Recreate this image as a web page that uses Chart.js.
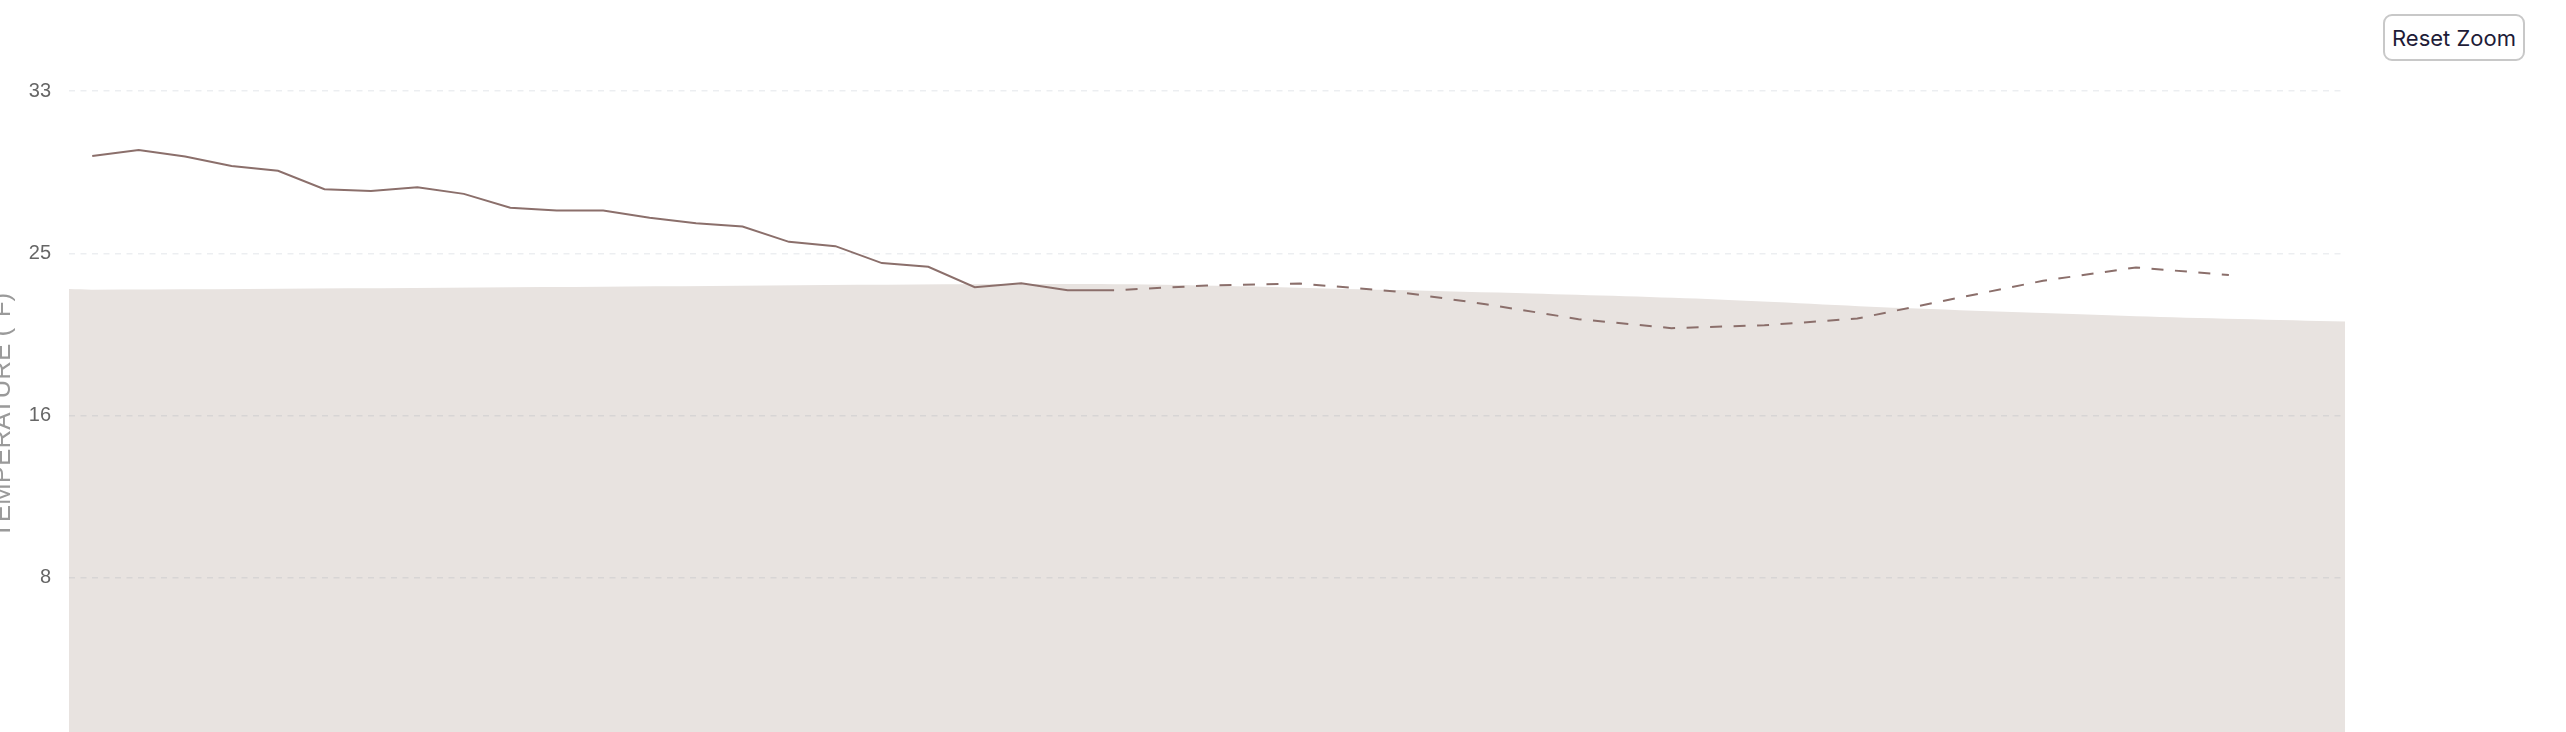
<!DOCTYPE html>
<html>
<head>
<meta charset="utf-8">
<script src="https://cdn.jsdelivr.net/npm/chart.js@4.4.1/dist/chart.umd.min.js"></script>
<style>
  html, body { margin: 0; padding: 0; background: #ffffff; overflow: hidden; width: 2566px; height: 732px; }
  #wrap { position: relative; width: 2566px; height: 732px; overflow: hidden; }
  #chart { position: absolute; left: -17px; top: 0; }
  #reset {
    position: absolute; left: 2383px; top: 14px; width: 142px; height: 47px;
    box-sizing: border-box; border: 2px solid #c8c8c8; border-radius: 9px;
    background: #ffffff; color: #1e1c38; font-family: Inter, "Noto Sans", sans-serif;
    font-size: 22px; padding: 0; cursor: pointer;
  }
</style>
</head>
<body>
<div id="wrap">
  <canvas id="chart" width="2583" height="770"></canvas>
  <button id="reset">Reset Zoom</button>
</div>
<script>
// ---- data ----
const observedHours = [0, 1, 2, 3, 4, 5, 6, 7, 8, 9, 10, 11, 12, 13, 14, 15, 16, 17, 18, 19, 20, 21, 22];
const observedTemp = [29.70, 30.00, 29.67, 29.19, 28.94, 28.01, 27.91, 28.11, 27.77, 27.06, 26.92, 26.92,
                      26.55, 26.28, 26.11, 25.33, 25.11, 24.25, 24.06, 23.02, 23.23, 22.87, 22.87];
const forecastHours = [22, 24, 26, 28, 30, 32, 34, 36, 38, 40, 42, 44, 46];
const forecastTemp = [22.87, 23.11, 23.21, 22.82, 22.16, 21.40, 20.94, 21.09, 21.43, 22.40, 23.35, 24.03, 23.64];
const normalHours = [-1, 0, 11, 22, 28, 31, 35, 39, 44, 49];
const normalTemp = [22.97, 22.90, 23.05, 23.18, 22.88, 22.70, 22.40, 21.96, 21.55, 21.25];
const yTickValues = [0, 8.25, 16.5, 24.75, 33];
const yTickLabels = ['0', '8', '16', '25', '33'];
const xRange = [-0.5, 48.5];
const yTitle = 'TEMPERATURE (°F)';

const toPoints = (xs, ys) => xs.map((x, i) => ({ x: x, y: ys[i] }));

const lineColor = '#8b6f6b';

new Chart(document.getElementById('chart'), {
  type: 'line',
  data: {
    datasets: [
      {
        label: 'Observed',
        data: toPoints(observedHours, observedTemp),
        borderColor: lineColor,
        borderWidth: 2,
        pointRadius: 0,
        tension: 0,
        fill: false,
        order: 1
      },
      {
        label: 'Forecast',
        data: toPoints(forecastHours, forecastTemp),
        borderColor: lineColor,
        borderWidth: 2,
        borderDash: [12, 11.5],
        borderDashOffset: 12,
        pointRadius: 0,
        tension: 0,
        fill: false,
        order: 2
      },
      {
        label: 'Normal',
        data: toPoints(normalHours, normalTemp),
        borderWidth: 0,
        borderColor: 'rgba(0,0,0,0)',
        backgroundColor: '#e8e3e0',
        pointRadius: 0,
        tension: 0.3,
        fill: 'origin',
        order: 3
      }
    ]
  },
  options: {
    responsive: false,
    animation: false,
    events: [],
    layout: { padding: { left: 0, top: 91, right: 221, bottom: 30 } },
    plugins: { legend: { display: false }, tooltip: { enabled: false } },
    scales: {
      x: {
        type: 'linear',
        min: xRange[0],
        max: xRange[1],
        display: false
      },
      y: {
        type: 'linear',
        min: yTickValues[0],
        max: yTickValues[yTickValues.length - 1],
        afterBuildTicks: (scale) => { scale.ticks = yTickValues.map(v => ({ value: v })); },
        afterFit: (scale) => { scale.width = 86; },
        border: { display: false, dash: [6, 5.5] },
        grid: {
          color: 'rgba(100,116,139,0.12)',
          lineWidth: 1.5,
          drawTicks: false,
          z: 1
        },
        ticks: {
          padding: 18,
          color: '#666666',
          font: { family: '"Liberation Sans", Arial, Helvetica, sans-serif', size: 20 },
          callback: (value, index) => yTickLabels[index]
        },
        title: {
          display: true,
          text: yTitle,
          color: '#9a9a9a',
          padding: { top: 4, bottom: 4 },
          font: { family: '"Liberation Sans", Arial, Helvetica, sans-serif', size: 26 }
        }
      }
    }
  }
});
</script>
</body>
</html>
